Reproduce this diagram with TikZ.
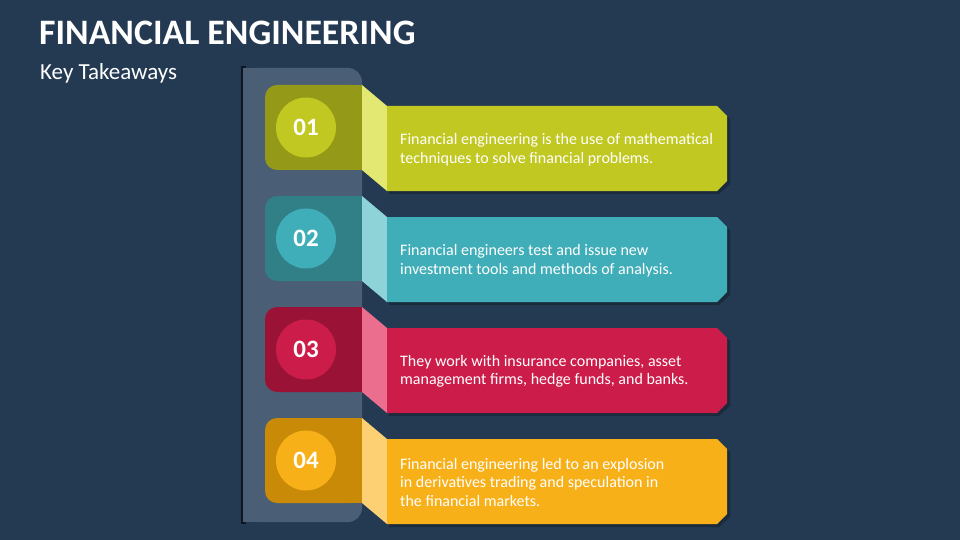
\documentclass[tikz,border=0pt]{standalone}
\usepackage{fontspec}
\setmainfont{Carlito}
\begin{document}
\begin{tikzpicture}[x=1pt,y=-1pt,
  txt/.style={text=white,anchor=west,align=left,inner sep=0,font=\fontsize{16}{18.5}\selectfont},
  num/.style={text=white,font=\bfseries\fontsize{25}{28}\selectfont}]
\definecolor{bg}{HTML}{243A52}
\definecolor{pan}{HTML}{4A5F75}
\fill[bg] (0,0) rectangle (960,540);
\useasboundingbox (0,0) rectangle (960,540);
\node[anchor=base west,text=white,font=\bfseries\fontsize{35.8}{38}\selectfont,inner sep=0] (title) at (39,45) {FINANCIAL ENGINEERING};
\node[anchor=base west,text=white,font=\fontsize{23}{26}\selectfont,inner sep=0] (sub) at (40,80) {Key Takeaways};
\fill[black!60!bg] (241,66) rectangle (246,524);
\fill[pan,rounded corners=14] (243,68) -- (362,68) -- (362,522) -- (243,522) -- cycle;
\fill[pan] (243,68) rectangle (300,522);
\foreach \i/\dk/\md/\lt/\t in {
 0/949A18/C2C822/E3E872/{Financial engineering is the use of mathematical\\techniques to solve financial problems.},
 1/318088/40AEB8/8ED3D8/{Financial engineers test and issue new\\investment tools and methods of analysis.},
 2/9A1336/CC1C4A/EC6E8E/{They work with insurance companies, asset\\management firms, hedge funds, and banks.},
 3/C98A08/F8B018/FDD074/{Financial engineering led to an explosion\\in derivatives trading and speculation in\\the financial markets.}}{
 \pgfmathsetmacro{\o}{111*\i}
 \definecolor{dk}{HTML}{\dk}\definecolor{md}{HTML}{\md}\definecolor{lt}{HTML}{\lt}
 \begin{scope}[yshift=-\o pt]
 \fill[black,opacity=0.25] (389,109) -- (719,109) -- (730,119) -- (730,184) -- (719,194) -- (389,194) -- cycle;
 \fill[dk,rounded corners=12] (362,85) -- (265,85) -- (265,170) -- (362,170) -- cycle;
 \fill[dk] (330,85) rectangle (362,170);
 \fill[lt] (362,85) -- (387,106) -- (387,191) -- (362,170) -- cycle;
 \fill[md] (387,106) -- (717,106) -- (727,116) -- (727,181) -- (717,191) -- (387,191) -- cycle;
 \node[circle,fill=md,minimum size=60pt,num] (n\i) at (306,127.5) {0\the\numexpr\i+1\relax};
 \node[txt] (t\i) at (400,149.5) {\t};
 \end{scope}
}
\end{tikzpicture}
\end{document}
